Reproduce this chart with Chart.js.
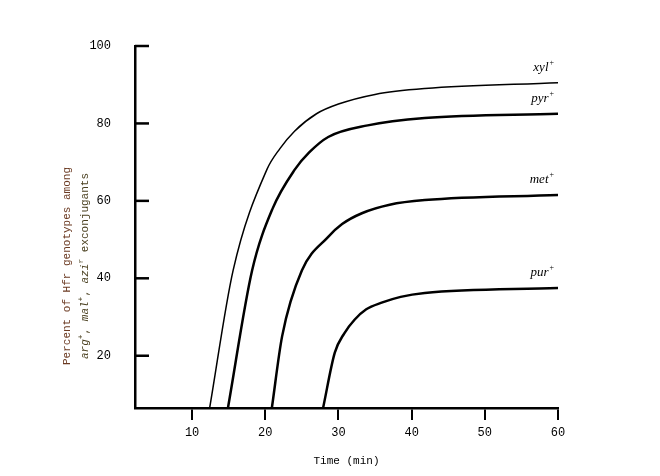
<!DOCTYPE html>
<html lang="en">
<head>
  <meta charset="UTF-8">
  <title>Hfr genotypes among exconjugants</title>
  <style>
    body { margin: 0; background: #fff; }
    #wrap { width: 660px; height: 476px; }
  </style>
</head>
<body>
  <div id="wrap"><canvas id="chart" width="660" height="476"></canvas></div>
  <script src="https://cdn.jsdelivr.net/npm/chart.js"></script>
  <script>
    const xylTime = [12.4, 15.6, 20.2, 22, 24, 27, 30, 35, 41.8, 60];
    const xylPct = [6.5, 42, 68, 73.5, 78, 82.5, 85, 87.5, 89, 90.5];
    const pyrTime = [14.9, 18.2, 21, 24, 26, 28.6, 34, 41.8, 60];
    const pyrPct = [6.5, 42, 58, 68, 72.5, 76.5, 79.5, 81.4, 82.5];
    const metTime = [20.9, 22.3, 25, 28.6, 30.5, 33.2, 37, 41.8, 60];
    const metPct = [6.5, 25, 42, 50.7, 54, 56.8, 59, 60.2, 61.5];
    const purTime = [27.9, 29.5, 30.8, 32.2, 33.8, 35.9, 38.5, 41.8, 60];
    const purPct = [6.5, 20.8, 25.8, 29.3, 32, 33.7, 35.2, 36.2, 37.5];
    const xTicks = [10, 20, 30, 40, 50, 60];
    const yTicks = [20, 40, 60, 80, 100];
    const curveNames = ['xyl', 'pyr', 'met', 'pur'];

    const mono = '"Liberation Mono", "DejaVu Sans Mono", monospace';
    const pts = (xs, ys) => xs.map((x, i) => ({ x: x, y: ys[i] }));

    function curve(xs, ys, w) {
      return {
        data: pts(xs, ys),
        borderColor: '#000',
        borderWidth: w,
        pointRadius: 0,
        showLine: true,
        cubicInterpolationMode: 'monotone',
        fill: false
      };
    }

    const decor = {
      id: 'decor',
      afterDraw(chart) {
        const c = chart.ctx, xs = chart.scales.x, ys = chart.scales.y;
        c.save();
        c.strokeStyle = '#000';
        c.lineWidth = 2.5;
        // y ticks pointing inward
        yTicks.forEach(v => {
          const py = ys.getPixelForValue(v);
          c.beginPath();
          c.moveTo(xs.left, py);
          c.lineTo(xs.left + 14, py);
          c.stroke();
        });
        // curve labels
        c.fillStyle = '#000';
        c.textAlign = 'right';
        c.textBaseline = 'alphabetic';
        chart.data.datasets.forEach((ds, i) => {
          const last = ds.data[ds.data.length - 1];
          const px = xs.getPixelForValue(last.x) - 4;
          const py = ys.getPixelForValue(last.y) - 12;
          c.font = '8px "Liberation Serif", serif';
          c.fillText('+', px, py - 6);
          const pw = c.measureText('+').width;
          c.font = 'italic 13px "Liberation Serif", serif';
          c.fillText(curveNames[i], px - pw - 1, py);
        });
        // x title
        c.textAlign = 'center';
        c.font = '11px ' + mono;
        c.fillText('Time (min)', (xs.left + xs.right) / 2, 464);
        // y title (rotated, two lines)
        c.translate(0, 266);
        c.rotate(-Math.PI / 2);
        c.fillStyle = '#6b3a22';
        c.fillText('Percent of Hfr genotypes among', 0, 70);
        const parts = [
          ['arg', 'italic'], ['+', 'sup'], [', ', ''], ['mal', 'italic'], ['+', 'sup'],
          [', ', ''], ['azi', 'italic'], ['r', 'sup'], [' exconjugants', '']
        ];
        const fontOf = s => s === 'sup' ? '8px ' + mono : (s === 'italic' ? 'italic 11px ' : '11px ') + mono;
        let total = 0;
        parts.forEach(p => { c.font = fontOf(p[1]); total += c.measureText(p[0]).width; });
        let x0 = -total / 2;
        c.textAlign = 'left';
        c.fillStyle = '#4a4020';
        parts.forEach(p => {
          c.font = fontOf(p[1]);
          c.fillText(p[0], x0, p[1] === 'sup' ? 83 : 88);
          x0 += c.measureText(p[0]).width;
        });
        c.restore();
      }
    };

    new Chart(document.getElementById('chart'), {
      type: 'scatter',
      data: {
        datasets: [
          curve(xylTime, xylPct, 1.5),
          curve(pyrTime, pyrPct, 2.5),
          curve(metTime, metPct, 2.5),
          curve(purTime, purPct, 2.5)
        ]
      },
      options: {
        responsive: false,
        animation: false,
        layout: { padding: { left: 0, top: 46, right: 102, bottom: 0 } },
        plugins: { legend: { display: false }, tooltip: { enabled: false } },
        scales: {
          x: {
            type: 'linear',
            min: 2.2,
            max: 60,
            afterBuildTicks: s => { s.ticks = xTicks.map(v => ({ value: v })); },
            afterFit: s => { s.height = 68; },
            grid: { drawOnChartArea: false, tickLength: 12, color: '#000', lineWidth: 2 },
            border: { color: '#000', width: 2.5 },
            ticks: { color: '#000', padding: 6, font: { family: mono, size: 12 } }
          },
          y: {
            min: 6.5,
            max: 100,
            afterBuildTicks: s => { s.ticks = yTicks.map(v => ({ value: v })); },
            afterFit: s => { s.width = 135; },
            grid: { display: false },
            border: { color: '#000', width: 2.5 },
            ticks: { color: '#000', padding: 16, font: { family: mono, size: 12 } }
          }
        }
      },
      plugins: [decor]
    });
  </script>
</body>
</html>
